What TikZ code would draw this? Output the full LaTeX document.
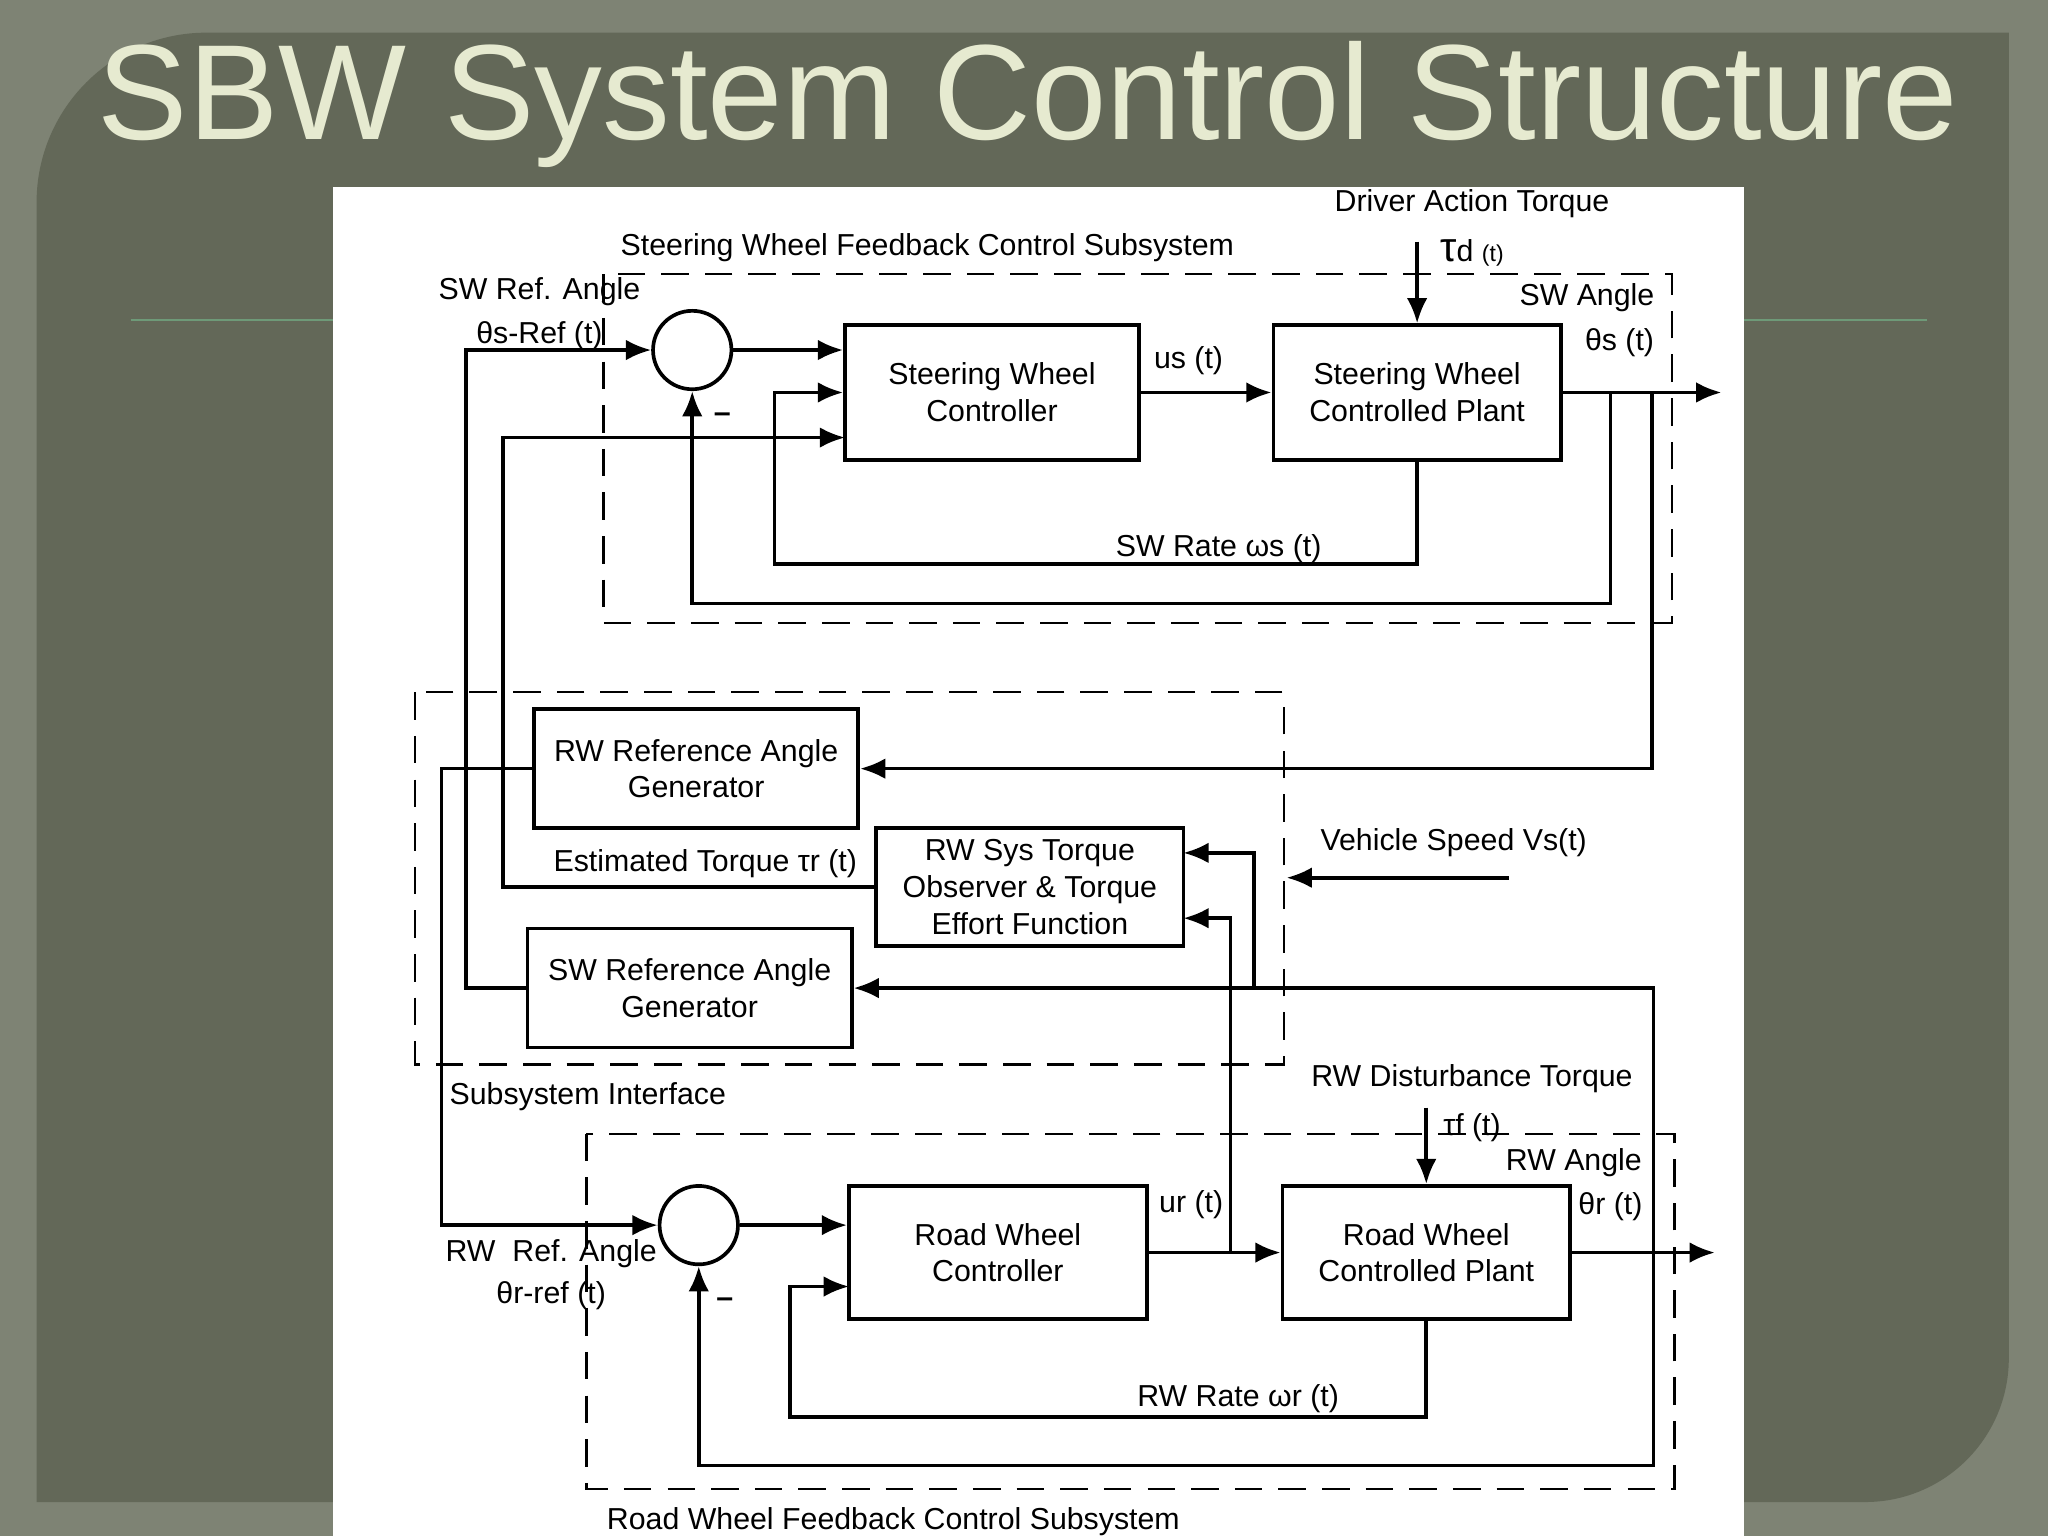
\documentclass[tikz,border=0pt]{standalone}
\usepackage{fontspec}
\setmainfont{Liberation Sans}
\usepackage{tikz}
\usetikzlibrary{positioning}
\usetikzlibrary{arrows.meta}
\usetikzlibrary{shapes}

\definecolor{outerbg}{HTML}{7E8374}
\definecolor{panelbg}{HTML}{636858}
\definecolor{titlefg}{HTML}{E6EAD0}
\definecolor{rulegreen}{HTML}{6E9A78}

\newcommand\lblfont{\fontsize{6.6}{8}\selectfont}

\begin{document}
\begin{tikzpicture}[x=0.01cm, y=-0.01cm, >={Latex[length=5.5pt,width=4.5pt]}]

\tikzset{%
    block/.style = {
        draw,
        line width=0.8pt,
        align=center,
        inner sep=0pt,
        font=\lblfont
    },
    sum/.style = {
        circle,
        draw,
        line width=0.8pt,
        minimum size=0.6cm,
        inner sep=0pt
    },
    wire/.style = {line width=0.8pt},
    frame/.style = {line width=0.5pt, dash pattern=on 6pt off 3.5pt},
    lbl/.style = {font=\lblfont, inner sep=0pt}
}

\useasboundingbox (0,0) rectangle (1568,1176);

% slide background
\fill[outerbg] (0,0) rectangle (1568,1176);
\fill[panelbg] (28,1150) -- (28,500) [rounded corners=1.3cm] -- (28,25) -- (600,25)
  [sharp corners] -- (1538,25) -- (1538,700) [rounded corners=1.1cm] -- (1538,1150)
  -- (1000,1150) [sharp corners] -- cycle;
\draw[rulegreen, line width=0.6pt] (100,245) -- (1475,245);
\node[titlefg, font=\fontsize{29.5}{32}\selectfont, inner sep=0pt] (title) at (787,80) {SBW System Control Structure};
\fill[white] (255,143) rectangle (1335,1176);

% frames
\draw[frame] (462,210) rectangle (1280,477);
\draw[frame] (318,530) rectangle (983,815);
\draw[frame] (449,868) rectangle (1282,1140);
\node[lbl] (swsub) at (710,190) {Steering Wheel Feedback Control Subsystem};
\node[lbl] (ifsub) at (450,840) {Subsystem Interface};
\node[lbl] (rwsub) at (684,1165) {Road Wheel Feedback Control Subsystem};

% blocks
\node[sum] (sum1) at (530,268) {};
\node[block, minimum width=2.25cm, minimum height=1.03cm] (swc) at (759.5,300.5) {Steering Wheel\\Controller};
\node[block, minimum width=2.2cm, minimum height=1.03cm] (swp) at (1085,300.5) {Steering Wheel\\Controlled Plant};
\node[block, minimum width=2.48cm, minimum height=0.91cm] (rwref) at (533,588.5) {RW Reference Angle\\Generator};
\node[block, minimum width=2.35cm, minimum height=0.9cm] (rwsys) at (788.5,679) {RW Sys Torque\\Observer \& Torque\\Effort Function};
\node[block, minimum width=2.48cm, minimum height=0.91cm] (swref) at (528,756.5) {SW Reference Angle\\Generator};
\node[sum] (sum2) at (535,938) {};
\node[block, minimum width=2.28cm, minimum height=1.02cm] (rwc) at (764,959) {Road Wheel\\Controller};
\node[block, minimum width=2.2cm, minimum height=1.02cm] (rwp) at (1092,959) {Road Wheel\\Controlled Plant};

% free ends and bends
\coordinate (taud) at (1085,185);
\coordinate (swout) at (1318,300.5);
\coordinate (swrate) at (593,432);
\coordinate (swtap) at (1233,300.5);
\coordinate (swfb) at (1233,462);
\coordinate (esttq) at (385,679);
\coordinate (swcin) at (647,335);
\coordinate (swrefbus) at (357,756.5);
\coordinate (thstap) at (1265,300.5);
\coordinate (vs) at (1155,672);
\coordinate (vsend) at (985,672);
\coordinate (rwrefbus) at (338,588.5);
\coordinate (urtap) at (942,959);
\coordinate (rwsysin2) at (906,703);
\coordinate (rwout) at (1313,959);
\coordinate (rwtap) at (1266,959);
\coordinate (rwfb) at (1266,1122);
\coordinate (thrtap) at (960,756.5);
\coordinate (rwsysin1) at (906,653);
\coordinate (rwrate) at (605,1085);
\coordinate (rwcin) at (650,985);
\coordinate (tauf) at (1092,848);

% steering wheel loop
\draw[wire, ->] (taud) -- (swp.north);
\draw[wire, ->] (sum1.east) -- (swc.west |- sum1);
\draw[wire, ->] (swc.east) -- (swp.west);
\draw[wire, ->] (swp.east) -- (swout);
\draw[wire, ->] (swp.south) |- (swrate) |- (swc.west);
\draw[wire, ->] (swtap) -- (swfb) -| (sum1.south);
\draw[wire, ->] (rwsys.west) -- (esttq) |- (swcin);
\draw[wire, ->] (swref.west) -- (swrefbus) |- (sum1.west);
\draw[wire, ->] (thstap) |- (rwref.east);

% interface
\draw[wire, ->] (vs) -- (vsend);
\draw[wire, ->] (rwref.west) -- (rwrefbus) |- (sum2.west);
\draw[wire, ->] (urtap) |- (rwsysin2);
\draw[wire, ->] (rwtap) |- (swref.east);
\draw[wire, ->] (thrtap) |- (rwsysin1);

% road wheel loop
\draw[wire, ->] (tauf) -- (rwp.north);
\draw[wire, ->] (sum2.east) -- (rwc.west |- sum2);
\draw[wire, ->] (rwc.east) -- (rwp.west);
\draw[wire, ->] (rwp.east) -- (rwout);
\draw[wire, ->] (rwtap) -- (rwfb) -| (sum2.south);
\draw[wire, ->] (rwp.south) |- (rwrate) |- (rwcin);

% signal labels
\node[lbl] (drvlbl) at (1127,156) {Driver Action Torque};
\node[lbl, font=\fontsize{9}{10}\selectfont] (taudlbl) at (1127,194) {τ\lblfont d \fontsize{5}{6}\selectfont(t)};
\node[lbl] (swanglbl) at (1215,228) {SW Angle};
\node[lbl] (thslbl) at (1240,262) {θs (t)};
\node[lbl] (swreflbl) at (413,223) {SW Ref. Angle};
\node[lbl] (thsreflbl) at (413,257) {θs-Ref (t)};
\node[lbl] (uslbl) at (910,276) {us (t)};
\node[lbl] (swratelbl) at (933,420) {SW Rate ωs (t)};
\node[lbl, font=\bfseries\lblfont] (minus1) at (553,320) {--};
\node[lbl] (estlbl) at (540,661) {Estimated Torque τr (t)};
\node[lbl] (vslbl) at (1113,645) {Vehicle Speed Vs(t)};
\node[lbl] (rwreflbl) at (422,960) {RW~~Ref. Angle};
\node[lbl] (thrreflbl) at (422,992) {θr-ref (t)};
\node[lbl] (urlbl) at (912,922) {ur (t)};
\node[lbl] (distlbl) at (1127,826) {RW Disturbance Torque};
\node[lbl] (tauflbl) at (1127,863) {τf (t)};
\node[lbl] (rwanglbl) at (1205,890) {RW Angle};
\node[lbl] (thrlbl) at (1233,924) {θr (t)};
\node[lbl] (rwratelbl) at (948,1071) {RW Rate ωr (t)};
\node[lbl, font=\bfseries\lblfont] (minus2) at (555,997) {--};

\end{tikzpicture}
\end{document}
